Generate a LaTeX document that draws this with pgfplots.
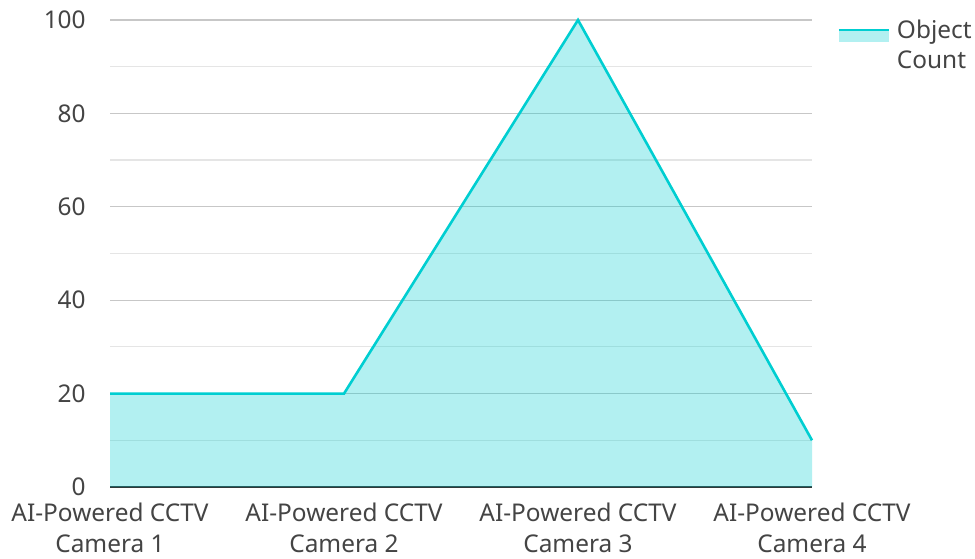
\documentclass[border=0pt]{standalone}
\usepackage{pgfplots}
\pgfplotsset{compat=1.18}
\usepackage{fontspec}
\setmainfont{Noto Sans}
\definecolor{tq}{HTML}{00CED1}
\definecolor{txt}{HTML}{444444}
\begin{document}
\fontsize{24.5}{31}\selectfont
\begin{tikzpicture}
\path[use as bounding box] (0,0) rectangle (975bp,559bp);
\begin{axis}[
  at={(110bp,72bp)}, anchor=south west,
  scale only axis, width=702bp, height=467bp,
  xmin=0, xmax=3, ymin=0, ymax=100,
  xtick={0,1,2,3},
  xticklabels={AI-Powered CCTV\\Camera 1,AI-Powered CCTV\\Camera 2,AI-Powered CCTV\\Camera 3,AI-Powered CCTV\\Camera 4},
  xticklabel style={align=center, text=txt, font=\fontsize{24.5}{31}\selectfont, yshift=-8bp},
  ytick={0,20,...,100}, minor ytick={10,30,...,90},
  yticklabel style={text=txt, font=\fontsize{24.5}{31}\selectfont, xshift=-16bp},
  /pgf/number format/assume math mode=true,
  ymajorgrids, yminorgrids,
  major grid style={draw=black!22, line width=1.2bp},
  minor grid style={draw=black!10, line width=1.2bp},
  major tick length=0pt, minor tick length=0pt,
  axis lines*=left,
  y axis line style={draw=none},
  x axis line style={draw=black!80, line width=2bp, -},
  clip=false,
  legend style={at={(1.036,1.005)}, anchor=north west, draw=none, fill=none,
    font=\fontsize{24.5}{30}\selectfont, text=txt, inner sep=0pt,
    cells={align=left, anchor=north west}},
  legend cell align=left,
]
\addplot[draw=none, fill=tq, fill opacity=0.3, forget plot]
  coordinates {(0,20) (1,20) (2,100) (3,10)} \closedcycle;
\addplot[draw=tq, line width=2.6bp, forget plot]
  coordinates {(0,20) (1,20) (2,100) (3,10)};
\addlegendimage{legend image code/.code={
    \path[draw=none, fill=tq, fill opacity=0.3] (0bp,4bp) rectangle (50bp,16bp);
    \path[draw=tq, line width=2.6bp] (0bp,16bp) -- (50bp,16bp);
    \path (56bp,10bp);
  }}
\addlegendentry{Object\\Count}
\end{axis}
\end{tikzpicture}
\end{document}
